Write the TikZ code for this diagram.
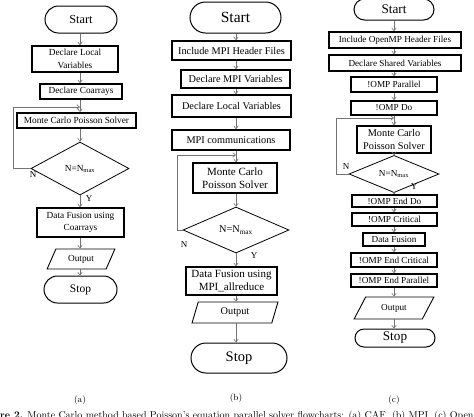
\documentclass[tikz,border=0pt]{standalone}
\usepackage{fontspec}
\newfontfamily\tms{Liberation Serif}
\usetikzlibrary{shapes.geometric,arrows.meta}
\newcommand\fs[2]{\fontsize{#1}{#2}\selectfont}
\begin{document}
\begin{tikzpicture}[x=1pt,y=-1pt,
  proc/.style={draw, line width=1.6pt, inner sep=0pt, align=center},
  term/.style={draw, line width=1pt, inner sep=0pt},
  dec/.style={draw, diamond, line width=0.8pt, inner sep=0pt},
  io/.style={draw, trapezium, trapezium stretches=true, line width=0.9pt, inner sep=0pt},
  flow/.style={draw=black!55, line width=0.6pt, -{Straight Barb[length=2.8pt,width=4.5pt]}},
  lbl/.style={inner sep=0pt, font={\tms\fs{9}{10}}},
  panlbl/.style={inner sep=0pt, font={\fs{9}{10}}},
  fa/.style={font={\tms\fs{9.3}{12.7}}},
  fb/.style={font={\tms\fs{10.3}{13}}},
  fc/.style={font={\tms\fs{9.2}{11.5}}},
]
\clip (0,0) rectangle (474,416);
\fill[white] (0,0) rectangle (474,416);
% ---------------- (a) ----------------
\coordinate (colA) at (80,0);
\node[term, minimum width=72, minimum height=27, rounded corners=13.5, font={\tms\fs{12.3}{14}}] (aS) at (81,19.5) {Start};
\node[proc, fa, minimum width=86, minimum height=26] (aD1) at (75,59) {Declare Local\\Variables};
\node[proc, fa, minimum width=82, minimum height=15] (aD2) at (81,91.5) {Declare Coarrays};
\node[proc, fa, line width=1.9pt, minimum width=119, minimum height=15] (aM) at (76.5,120.5) {Monte Carlo Poisson Solver};
\node[dec, fa, minimum width=98, minimum height=53] (aC) at (80,168.5) {N=N\textsubscript{max}};
\node[proc, fa, minimum width=87, minimum height=29] (aF) at (80.5,222.5) {Data Fusion using\\Coarrays};
\node[io, fa, trapezium left angle=61, trapezium right angle=119, minimum width=68, minimum height=20] (aO) at (81,259) {Output};
\node[term, minimum width=73, minimum height=27, rounded corners=13.5, font={\tms\fs{11.5}{13}}] (aE) at (80.5,289.5) {Stop};
\coordinate (aJ) at (80,107);
\coordinate (aL) at (13,107);
\draw[flow] (aS.south -| colA) -- (aD1.north -| colA);
\draw[flow] (aD1.south -| colA) -- (aD2.north -| colA);
\draw[flow] (aD2.south -| colA) -- (aM.north -| colA);
\draw[flow] (aM.south -| colA) -- (aC.north);
\draw[flow] (aC.south) -- (aF.north -| colA);
\draw[flow] (aF.south -| colA) -- (aO.north -| colA);
\draw[flow] (aO.south -| colA) -- (aE.north -| colA);
\draw[flow] (aC.west) -| (aL) -- (aJ);
\node[lbl] (aN) at (33,175) {N};
\node[lbl] (aY) at (89,199) {Y};
\node[panlbl] (la) at (80,400) {(a)};
% ---------------- (b) ----------------
\coordinate (colB) at (236,0);
\node[term, minimum width=91, minimum height=31, rounded corners=15.5, font={\tms\fs{15.5}{17}}] (bS) at (235.5,17.5) {Start};
\node[proc, fb, minimum width=119, minimum height=19] (bI) at (231.5,50.5) {Include MPI Header Files};
\node[proc, fb, minimum width=109, minimum height=18] (bD1) at (235.5,79) {Declare MPI Variables};
\node[proc, fb, minimum width=119, minimum height=22] (bD2) at (231.5,106) {Declare Local Variables};
\node[proc, fb, minimum width=118, minimum height=20] (bMC) at (231,140) {MPI communications};
\node[proc, font={\tms\fs{11}{13.3}}, minimum width=84, minimum height=30] (bM) at (235,178) {Monte Carlo\\Poisson Solver};
\node[dec, fb, minimum width=106, minimum height=46] (bC) at (236,230) {N=N\textsubscript{max}};
\node[proc, font={\tms\fs{11}{13}}, minimum width=91, minimum height=28] (bF) at (231.5,281) {Data Fusion using\\MPI\_allreduce};
\node[io, fb, trapezium left angle=75, trapezium right angle=105, minimum width=86, minimum height=21] (bO) at (235,312.5) {Output};
\node[term, minimum width=96, minimum height=30, rounded corners=15, font={\tms\fs{14.5}{16}}] (bE) at (239,358) {Stop};
\coordinate (bJ) at (236,155);
\coordinate (bL) at (177,155);
\draw[flow] (bS.south -| colB) -- (bI.north -| colB);
\draw[flow] (bI.south -| colB) -- (bD1.north -| colB);
\draw[flow] (bD1.south -| colB) -- (bD2.north -| colB);
\draw[flow] (bD2.south -| colB) -- (bMC.north -| colB);
\draw[flow] (bMC.south -| colB) -- (bM.north -| colB);
\draw[flow] (bM.south -| colB) -- (bC.north);
\draw[flow] (bC.south) -- (bF.north -| colB);
\draw[flow] (bF.south -| colB) -- (bO.north -| colB);
\draw[flow] (bO.south -| colB) -- (bE.north -| colB);
\draw[flow] (bC.west) -| (bL) -- (bJ);
\node[lbl] (bN) at (184,245) {N};
\node[lbl] (bY) at (254,256) {Y};
\node[panlbl] (lb) at (236,398) {(b)};
% ---------------- (c) ----------------
\coordinate (colC) at (394,0);
\node[term, minimum width=80, minimum height=21, rounded corners=10.5, font={\tms\fs{13.2}{15}}] (cS) at (394,9.5) {Start};
\node[proc, fc, minimum width=132, minimum height=16] (cI) at (395,40) {Include OpenMP Header Files};
\node[proc, fc, minimum width=132, minimum height=16] (cD) at (395,63) {Declare Shared Variables};
\node[proc, fc, minimum width=86, minimum height=15] (cP) at (394,84.5) {!OMP Parallel};
\node[proc, fc, minimum width=86, minimum height=14] (cDo) at (394,108) {!OMP Do};
\node[proc, font={\tms\fs{10.3}{13}}, minimum width=74, minimum height=27] (cM) at (394,139.5) {Monte Carlo\\Poisson Solver};
\node[dec, fc, minimum width=90, minimum height=32] (cC) at (394,174) {N=N\textsubscript{max}};
\node[proc, fc, minimum width=85, minimum height=12] (cED) at (394.5,201) {!OMP End Do};
\node[proc, fc, minimum width=85, minimum height=13] (cCr) at (394.5,219.5) {!OMP Critical};
\node[proc, fc, minimum width=62, minimum height=13] (cF) at (394,239.5) {Data Fusion};
\node[proc, fc, minimum width=86, minimum height=14] (cEC) at (394,260) {!OMP End Critical};
\node[proc, fc, minimum width=86, minimum height=13] (cEP) at (394,280.5) {!OMP End Parallel};
\node[io, fc, trapezium left angle=57, trapezium right angle=123, minimum width=80, minimum height=22] (cO) at (394,308) {Output};
\node[term, minimum width=80, minimum height=18, rounded corners=9, font={\tms\fs{13.2}{15}}] (cE) at (395,338) {Stop};
\coordinate (cJ) at (394,118);
\coordinate (cL) at (336,118);
\draw[flow] (cS.south -| colC) -- (cI.north -| colC);
\draw[flow] (cI.south -| colC) -- (cD.north -| colC);
\draw[flow] (cD.south -| colC) -- (cP.north -| colC);
\draw[flow] (cP.south -| colC) -- (cDo.north -| colC);
\draw[flow] (cDo.south -| colC) -- (cM.north -| colC);
\draw[flow] (cM.south -| colC) -- (cC.north);
\draw[flow] (cC.south) -- (cED.north -| colC);
\draw[flow] (cED.south -| colC) -- (cCr.north -| colC);
\draw[flow] (cCr.south -| colC) -- (cF.north -| colC);
\draw[flow] (cF.south -| colC) -- (cEC.north -| colC);
\draw[flow] (cEC.south -| colC) -- (cEP.north -| colC);
\draw[flow] (cEP.south -| colC) -- (cO.north -| colC);
\draw[flow] (cO.south -| colC) -- (cE.north -| colC);
\draw[flow] (cC.west) -| (cL) -- (cJ);
\node[lbl] (cN) at (346,167) {N};
\node[lbl] (cY) at (414,187) {Y};
\node[panlbl] (lc) at (394,400) {(c)};
% caption (cut off by the frame, as in the reference)
\node[anchor=base west, inner sep=0pt, font={\fs{10}{12}}] (capt) at (0,418) {\llap{\textbf{Figu}}\textbf{re 2.} Monte Carlo method based Poisson's equation parallel solver flowcharts: (a) CAF, (b) MPI, (c) OpenMP.};
\end{tikzpicture}
\end{document}
